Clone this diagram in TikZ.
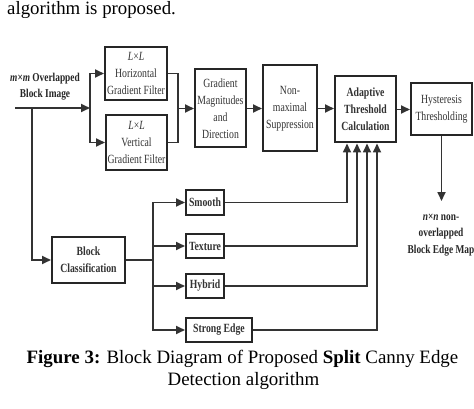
\documentclass[tikz,border=0pt]{standalone}
\usepackage{fontspec}
\setmainfont{Liberation Serif}
\newfontfamily\cond[FakeStretch=0.78]{Liberation Serif}
\usetikzlibrary{arrows.meta}
\tikzset{
  blk/.style={draw=black!85, line width=2pt, inner sep=0pt, align=center,
    font=\cond\fontsize{12.5}{17}\selectfont, text=black!80},
  bblk/.style={blk, font=\cond\bfseries\fontsize{12.5}{17}\selectfont},
  lbl/.style={inner sep=0pt, align=center, font=\cond\bfseries\fontsize{12}{16.5}\selectfont, text=black!85},
  arr/.style={line width=1.7pt, draw=black!80, -{Triangle[length=9pt,width=8pt]}},
  ln/.style={line width=1.7pt, draw=black!80},
}
\begin{document}
\begin{tikzpicture}[x=1pt,y=-1pt]
\useasboundingbox (0,0) rectangle (474,409);
\fill[white] (0,0) rectangle (474,409);
% top text
\node[anchor=base west, inner sep=0pt, font=\fontsize{18.8}{22}\selectfont] (top) at (7,15) {algorithm is proposed.};
% boxes
\node[blk, minimum width=62pt, minimum height=53pt] (hf) at (136,73.5) {\textit{L}×\textit{L}\\Horizontal\\Gradient Filter};
\node[blk, minimum width=61pt, minimum height=55pt] (vf) at (136.5,142.5) {\textit{L}×\textit{L}\\Vertical\\Gradient Filter};
\node[blk, minimum width=51pt, minimum height=78pt] (grad) at (220.5,108.5) {Gradient\\Magnitudes\\and\\Direction};
\node[blk, minimum width=54pt, minimum height=86pt] (nms) at (290,108.5) {Non-\\maximal\\Suppression};
\node[bblk, minimum width=61pt, minimum height=66pt] (atc) at (365.5,109.5) {Adaptive\\Threshold\\Calculation};
\node[blk, minimum width=61pt, minimum height=52pt] (hyst) at (441.5,109.5) {Hysteresis\\Thresholding};
\node[bblk, minimum width=73pt, minimum height=46pt] (bc) at (88.5,260) {Block\\Classification};
\node[bblk, minimum width=38pt, minimum height=25pt] (sm) at (205,202.5) {Smooth};
\node[bblk, minimum width=38pt, minimum height=24pt] (tx) at (205,246) {Texture};
\node[bblk, minimum width=38pt, minimum height=24pt] (hy) at (205,286) {Hybrid};
\node[bblk, minimum width=66pt, minimum height=24pt] (se) at (219,330) {Strong Edge};
% labels
\node[lbl] (inl) at (45,86.5) {\textit{m}×\textit{m} Overlapped\\Block Image};
\node[lbl] (outl) at (441,235) {\textit{n}×\textit{n} non-\\overlapped\\Block Edge Map};
% coordinates
\coordinate (in0) at (15,108);
\coordinate (sp1) at (90,108);
\coordinate (br) at (32,108);
\coordinate (mg) at (178,108.5);
\coordinate (cs) at (153,260);
\coordinate (otip) at (441.5,201);
\coordinate (a1) at ([xshift=-18.5pt]atc.south);
\coordinate (a2) at ([xshift=-8.5pt]atc.south);
\coordinate (a3) at ([xshift=1.5pt]atc.south);
\coordinate (a4) at ([xshift=11.5pt]atc.south);
% connectors
\draw[arr] (in0) -- (sp1);
\draw[arr] (sp1) |- (hf.west);
\draw[arr] (sp1) |- (vf.west);
\draw[arr] (br) |- (bc.west);
\draw[ln] (hf.east) -| (mg);
\draw[ln] (vf.east) -| (mg);
\draw[arr] (mg) -- (grad.west);
\draw[arr] (grad.east) -- (nms.west);
\draw[arr] (nms.east) -- (nms.east -| atc.west);
\draw[arr] (atc.east) -- (hyst.west);
\draw[arr] (hyst.south) -- (otip);
\draw[ln] (bc.east) -- (cs);
\draw[arr] (cs) |- (sm.west);
\draw[arr] (cs) |- (tx.west);
\draw[arr] (cs) |- (hy.west);
\draw[arr] (cs) |- (se.west);
\draw[arr] (sm.east) -| (a1);
\draw[arr] (tx.east) -| (a2);
\draw[arr] (hy.east) -| (a3);
\draw[arr] (se.east) -| (a4);
% caption
\node[anchor=base, inner sep=0pt, font=\fontsize{18.9}{22}\selectfont] (cap1) at (242.5,363) {\textbf{Figure 3:} Block Diagram of Proposed \textbf{Split} Canny Edge};
\node[anchor=base, inner sep=0pt, font=\fontsize{18.9}{22}\selectfont] (cap2) at (243.5,385) {Detection algorithm};
\end{tikzpicture}
\end{document}
